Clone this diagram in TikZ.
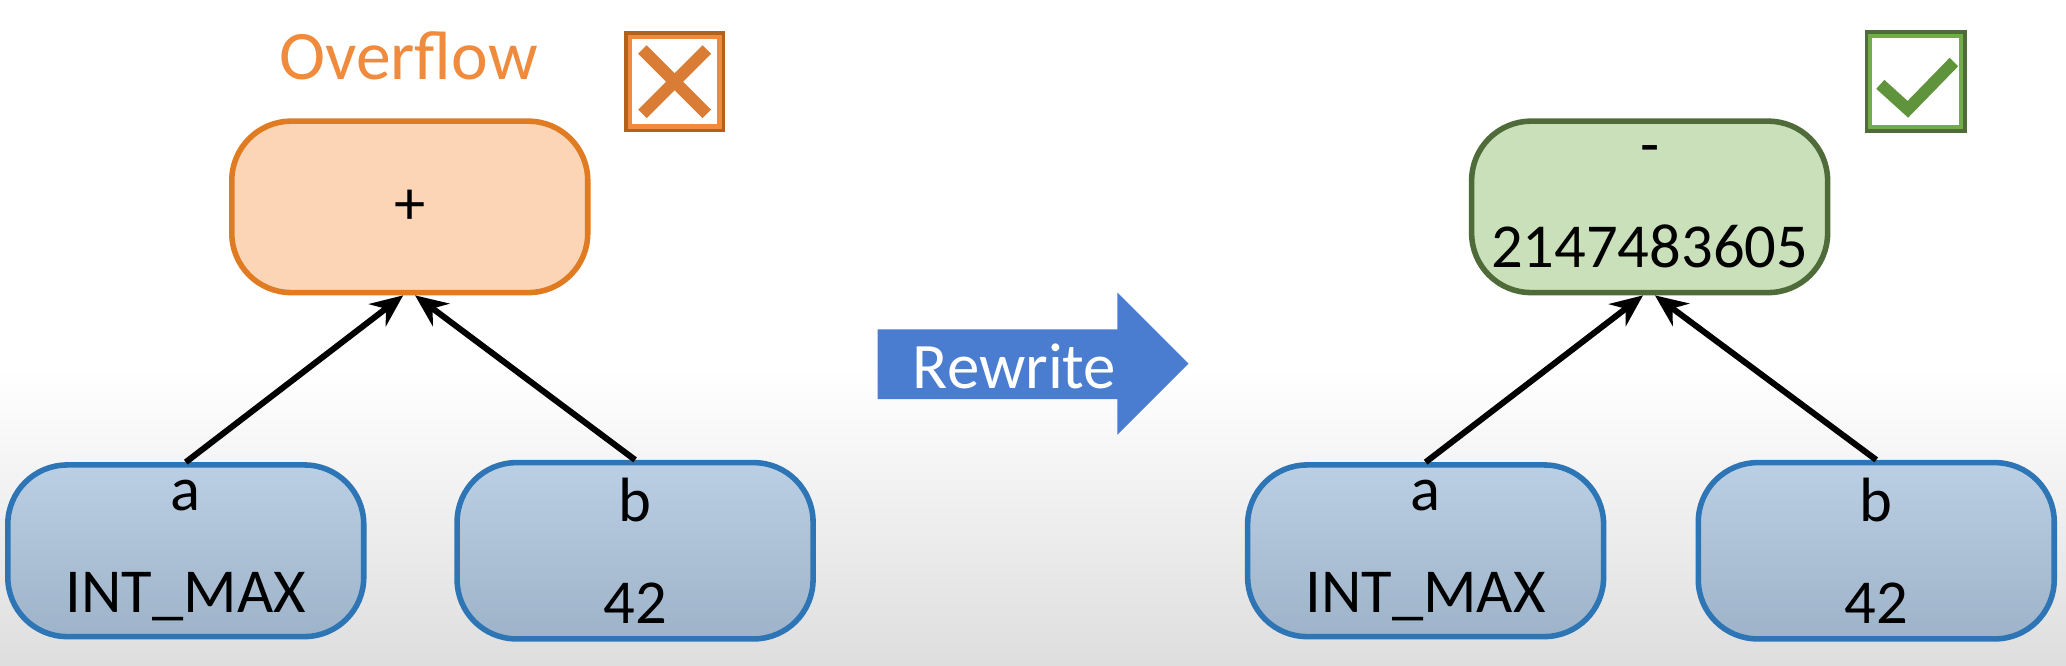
\documentclass[tikz,border=0pt]{standalone}
\usepackage{fontspec}
\setmainfont{Carlito}
\usetikzlibrary{arrows.meta,calc}
\definecolor{ovOrange}{HTML}{E07B22}
\definecolor{ovFill}{HTML}{FBD5B5}
\definecolor{okGreen}{HTML}{4F6B3A}
\definecolor{okFill}{HTML}{CAE0BA}
\definecolor{valBlue}{HTML}{2E75B6}
\definecolor{valFill}{HTML}{AFC7DF}
\definecolor{rwBlue}{HTML}{4A7DCF}
\definecolor{markOrange}{HTML}{F08A3C}
\definecolor{markGreen}{HTML}{70AD47}
\begin{document}
\begin{tikzpicture}[x=0.01cm, y=-0.01cm,
    opnode/.style={draw, line width=1.2pt, rounded corners=0.45cm, minimum width=2.7cm, minimum height=1.3cm, align=center, font=\fontsize{13.5}{22}\selectfont},
    valnode/.style={opnode, draw=valBlue, top color=valFill!85!white, bottom color=valFill!90!black},
    edge/.style={-{Stealth[length=7pt,width=6pt]}, line width=1.3pt}]
    % background
    \fill[white] (0,0) rectangle (1568,505);
    \shade[top color=white, bottom color=black!13] (0,280) rectangle (1568,505);
    \useasboundingbox (0,0) rectangle (1568,505);

    % left tree
    \node[opnode, draw=ovOrange, fill=ovFill] (plus) at (311,157) {+};
    \node[valnode] (a1) at (141,418) {a\\INT\_MAX};
    \node[valnode] (b1) at (482,418) {b\\42};
    \node[text=markOrange, font=\fontsize{15}{18}\selectfont] (over) at (310,42) {Overflow};
    \node[draw=ovOrange!80!black, fill=markOrange, line width=0.8pt, minimum size=0.74cm, inner sep=0pt] (cross) at (512,62) {};
    \fill[white] ($(cross.south west)+(6,-6)$) rectangle ($(cross.north east)+(-6,6)$);
    \draw[markOrange!90!black, line width=2.6pt] ($(cross.south west)+(14,-14)$) -- ($(cross.north east)+(-14,14)$)
        ($(cross.north west)+(14,14)$) -- ($(cross.south east)+(-14,-14)$);

    % rewrite arrow
    \fill[rwBlue] (666,250) -- (848,250) -- (848,222) -- (902,276) -- (848,330) -- (848,303) -- (666,303) -- cycle;
    \node[text=white, font=\fontsize{14}{17}\selectfont] (rw) at (770,278) {Rewrite};

    % right tree
    \node[opnode, draw=okGreen, fill=okFill] (minus) at (1252,157) {-\\2147483605};
    \node[valnode] (a2) at (1082,418) {a\\INT\_MAX};
    \node[valnode] (b2) at (1424,418) {b\\42};
    \node[draw=okGreen, fill=markGreen, line width=0.8pt, minimum size=0.75cm, inner sep=0pt] (check) at (1454,62) {};
    \fill[white] ($(check.south west)+(6,-6)$) rectangle ($(check.north east)+(-6,6)$);
    \draw[markGreen!85!black, line width=2.6pt] ($(check.west)+(12,2)$) -- ($(check.south)+(-6,-18)$) -- ($(check.north east)+(-10,24)$);

    \draw[edge] (a1.north) -- ([xshift=-0.05cm]plus.south);
    \draw[edge] (b1.north) -- ([xshift=0.04cm]plus.south);
    \draw[edge] (a2.north) -- ([xshift=-0.05cm]minus.south);
    \draw[edge] (b2.north) -- ([xshift=0.04cm]minus.south);
\end{tikzpicture}
\end{document}
